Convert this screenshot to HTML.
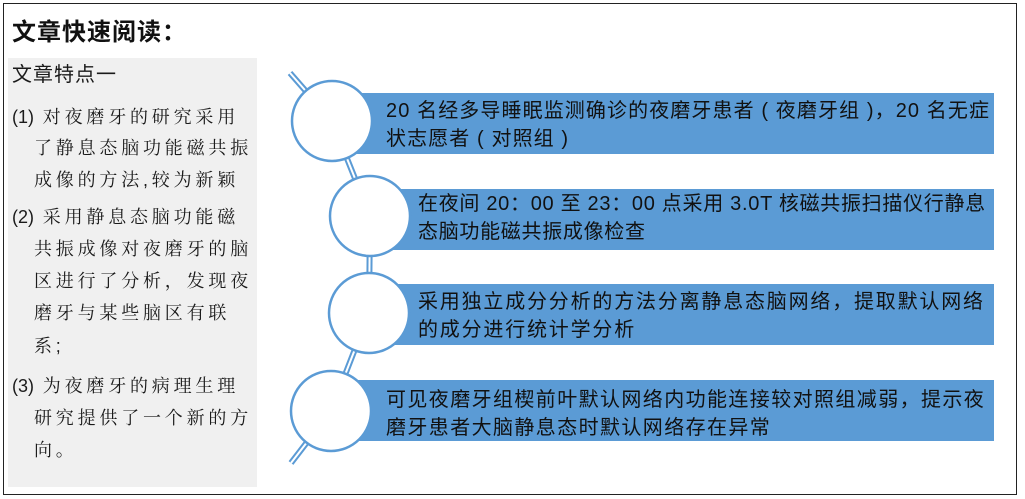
<!DOCTYPE html>
<html><head><meta charset="utf-8"><style>
body{margin:0;width:1025px;height:499px;background:#fff;position:relative;overflow:hidden}
.b{position:absolute;left:3px;top:3px;width:1012px;height:490px;border:1.5px solid #222}
.t{position:absolute;left:12px;top:12px;font:bold 24px "Liberation Sans","Noto Sans CJK SC",sans-serif;color:#111;letter-spacing:1px}
.p{position:absolute;left:8px;top:58px;width:249px;height:429px;background:#f0f0f0}
.l{position:absolute;white-space:nowrap;font:18px "Liberation Sans","Noto Serif CJK SC",serif;color:#1a1a1a;letter-spacing:3.8px;line-height:20px}
.h{font-family:"Liberation Sans","Noto Sans CJK SC",sans-serif;letter-spacing:0}
.bt{position:absolute;white-space:nowrap;font:20px "Liberation Sans","Noto Sans CJK SC",sans-serif;color:#111;line-height:28px;letter-spacing:1.8px}
svg{position:absolute;left:0;top:0}
</style></head><body>
<div class="b"></div>
<div class="t">文章快速阅读：</div>
<div class="p"></div>
<div class="l h" style="left:12px;top:65px;font-size:20px;letter-spacing:1px">文章特点一</div>
<div class="l" style="left:12px;top:107px"><span class="h">(1)</span> 对夜磨牙的研究采用</div>
<div class="l" style="left:34px;top:138px">了静息态脑功能磁共振</div>
<div class="l" style="left:34px;top:170px">成像的方法,较为新颖</div>
<div class="l" style="left:12px;top:207px"><span class="h">(2)</span> 采用静息态脑功能磁</div>
<div class="l" style="left:34px;top:239px">共振成像对夜磨牙的脑</div>
<div class="l" style="left:34px;top:271px">区进行了分析，发现夜</div>
<div class="l" style="left:34px;top:303px">磨牙与某些脑区有联</div>
<div class="l" style="left:34px;top:336px">系;</div>
<div class="l" style="left:12px;top:376px"><span class="h">(3)</span> 为夜磨牙的病理生理</div>
<div class="l" style="left:34px;top:408px">研究提供了一个新的方</div>
<div class="l" style="left:34px;top:440px">向。</div>
<svg width="1025" height="499">
<g fill="#5b9bd5">
<rect x="332" y="93" width="662" height="61"/>
<rect x="370" y="189" width="624" height="61"/>
<rect x="370" y="284" width="624" height="61"/>
<rect x="332" y="380" width="662" height="61"/>
</g>
<g stroke="#5b9bd5" stroke-width="6" fill="none" stroke-linecap="butt">
<polyline points="290,73 332,121 370,216 369,313 331,411 291,463"/>
</g>
<g stroke="#fff" stroke-width="2" fill="none">
<polyline points="290,73 332,121 370,216 369,313 331,411 291,463"/>
</g>
<g fill="#fff" stroke="#5b9bd5" stroke-width="2.5">
<circle cx="332" cy="121" r="40"/>
<circle cx="370" cy="216" r="40"/>
<circle cx="369" cy="313" r="40"/>
<circle cx="331" cy="411" r="40"/>
</g>
</svg>
<div class="bt" style="left:386px;top:97px;letter-spacing:1.1px">20 名经多导睡眠监测确诊的夜磨牙患者 ( 夜磨牙组 )，20 名无症<br>状志愿者 ( 对照组 )</div>
<div class="bt" style="left:418px;top:190px;letter-spacing:0.7px">在夜间 20：00 至 23：00 点采用 3.0T 核磁共振扫描仪行静息<br>态脑功能磁共振成像检查</div>
<div class="bt" style="left:418px;top:288px;letter-spacing:1.8px">采用独立成分分析的方法分离静息态脑网络，提取默认网络<br>的成分进行统计学分析</div>
<div class="bt" style="left:386px;top:386px;letter-spacing:1.4px">可见夜磨牙组楔前叶默认网络内功能连接较对照组减弱，提示夜<br>磨牙患者大脑静息态时默认网络存在异常</div>
</body></html>
